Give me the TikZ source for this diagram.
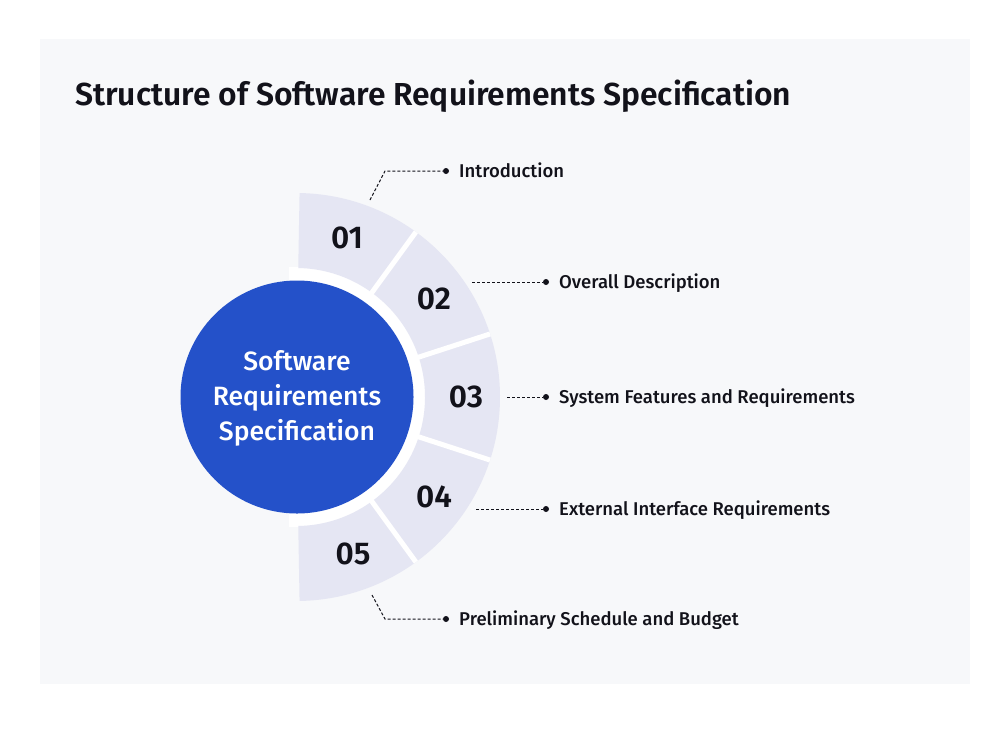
\documentclass[tikz,border=0pt]{standalone}
\usepackage{fontspec}
\setmainfont{Fira Sans}
\newfontfamily\medfont{Fira Sans Medium}
\newfontfamily\semifont{Fira Sans SemiBold}
\usepackage{xcolor}
\usetikzlibrary{positioning}
\usetikzlibrary{calc}
\definecolor{panelgray}{RGB}{247,248,250}
\definecolor{srsblue}{RGB}{36,81,201}
\definecolor{seggray}{RGB}{229,230,243}
\definecolor{inkdark}{RGB}{18,18,26}

\begin{document}
\begin{tikzpicture}[x=1pt, y=-1pt,
  dot/.style={circle, fill=inkdark, inner sep=0pt, minimum size=6pt},
  link/.style={draw, inkdark, line width=1pt, dash pattern=on 3pt off 2pt},
  lbl/.style={anchor=base west, inner sep=0pt, text=inkdark, font=\fontsize{18.5}{20}\medfont},
  num/.style={inner sep=0pt, text=inkdark, font=\fontsize{31.5}{33}\semifont}]
 \useasboundingbox (0,0) rectangle (1000,750);
 \fill[white] (0,0) rectangle (1000,750);
 \fill[panelgray] (40,39) rectangle (970,684);

 %title
 \node[anchor=base west, inner sep=0pt, text=inkdark, font=\fontsize{31.8}{34}\semifont] (title) at (75,105) {Structure of Software Requirements Specification};

 %ring
 \coordinate (c) at (296,397);
 \fill[white] (c) ++(-93:130) arc[start angle=-93, end angle=93, radius=130] -- cycle;
 \fill[seggray] (c) ++(-89:204) arc[start angle=-89, end angle=89, radius=204] -- ($(c)+(89:129)$) arc[start angle=89, end angle=-89, radius=129] -- cycle;
 \path[draw, white, line width=5pt] (c) ++(-54:120) -- ++(-54:84);
 \path[draw, white, line width=5pt] (c) ++(-18:120) -- ++(-18:84);
 \path[draw, white, line width=5pt] (c) ++(18:120) -- ++(18:84);
 \path[draw, white, line width=5pt] (c) ++(54:120) -- ++(54:84);

 %circle
 \node[circle, fill=srsblue, minimum size=233pt, inner sep=0pt] (srs) at (297,397) {};
 \node[align=center, text=white, font=\fontsize{26.5}{35}\medfont] (srstext) at (297,398) {Software\\Requirements\\Specification};

 %numbers
 \node[num] (n1) at (347,238) {01};
 \node[num] (n2) at (434,299) {02};
 \node[num] (n3) at (466,397) {03};
 \node[num] (n4) at (434,497) {04};
 \node[num] (n5) at (353,554) {05};

 %dots
 \node[dot] (d1) at (446,171) {};
 \node[dot] (d2) at (546,282) {};
 \node[dot] (d3) at (546,397) {};
 \node[dot] (d4) at (546,509) {};
 \node[dot] (d5) at (446,619) {};

 %lines
 \coordinate (s1) at (370,200);
 \coordinate (b1) at (385,171);
 \coordinate (s2) at (472,282);
 \coordinate (s3) at (507,397);
 \coordinate (s4) at (476,509);
 \coordinate (s5) at (372,595);
 \coordinate (b5) at (385,619);
 \path[link] (s1) -- (b1) -- (d1);
 \path[link] (s2) -- (d2);
 \path[link] (s3) -- (d3);
 \path[link] (s4) -- (d4);
 \path[link] (s5) -- (b5) -- (d5);

 %labels
 \node[lbl] (t1) at (459,177.5) {Introduction};
 \node[lbl] (t2) at (559,288.5) {Overall Description};
 \node[lbl] (t3) at (559,403.5) {System Features and Requirements};
 \node[lbl] (t4) at (559,515.5) {External Interface Requirements};
 \node[lbl] (t5) at (459,625.5) {Preliminary Schedule and Budget};
\end{tikzpicture}
\end{document}
